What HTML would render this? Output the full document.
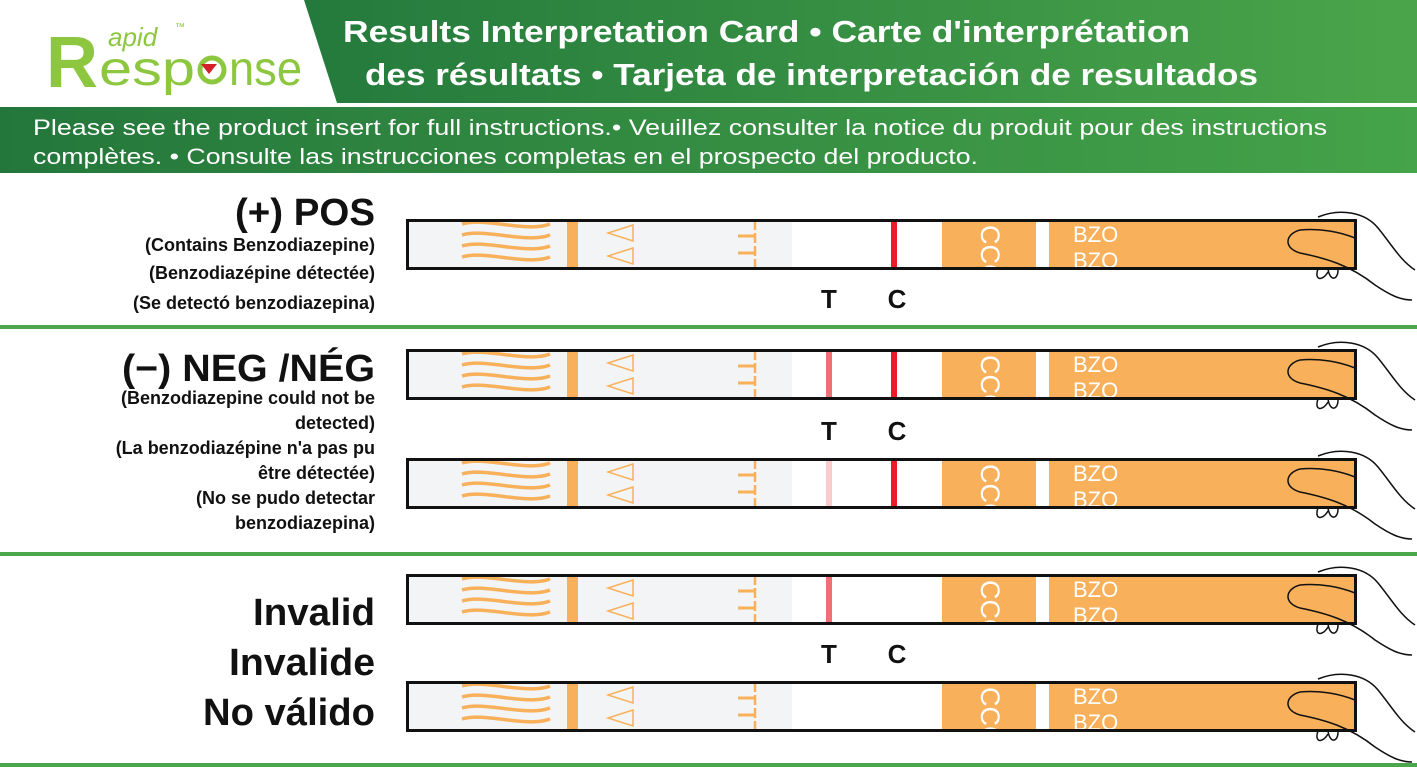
<!DOCTYPE html>
<html><head><meta charset="utf-8">
<style>
html,body{margin:0;padding:0;background:#fff;}
svg{display:block;}
text{font-family:"Liberation Sans",sans-serif;}
</style></head>
<body>
<svg id="card" width="1417" height="768" viewBox="0 0 1417 768" xmlns="http://www.w3.org/2000/svg">
<defs>
<linearGradient id="g1" x1="0" x2="1" y1="0" y2="0"><stop offset="0" stop-color="#247a3c"/><stop offset="1" stop-color="#4aa54a"/></linearGradient>
<linearGradient id="g2" x1="0" x2="1" y1="0" y2="0"><stop offset="0" stop-color="#24773b"/><stop offset="1" stop-color="#45a349"/></linearGradient>
</defs>
<rect x="0" y="0" width="1417" height="768" fill="#fff"/>
<polygon points="304,0 1417,0 1417,103 337,103" fill="url(#g1)"/>
<rect x="0" y="107" width="1417" height="66" fill="url(#g2)"/>
<g>
<text x="46" y="87" font-size="72" font-weight="bold" fill="#8dc63f">R</text>
<text x="108" y="46" font-size="26" font-style="italic" fill="#8dc63f" font-family="Liberation Serif, serif">apid</text>
<text x="175" y="30" font-size="10" fill="#8dc63f">™</text>
<text x="99" y="85" font-size="48" fill="#8dc63f" textLength="96" lengthAdjust="spacingAndGlyphs">esp</text>
<circle cx="212" cy="70" r="12" fill="none" stroke="#8dc63f" stroke-width="5"/>
<polygon points="201,64 217,64 209,74" fill="#d42027"/>
<text x="229" y="85" font-size="48" fill="#8dc63f" textLength="73" lengthAdjust="spacingAndGlyphs">nse</text>
</g>
<g fill="#fff" font-weight="bold" font-size="31">
<text x="343" y="42" textLength="847" lengthAdjust="spacingAndGlyphs">Results Interpretation Card • Carte d'interprétation</text>
<text x="365" y="85" textLength="893" lengthAdjust="spacingAndGlyphs">des résultats • Tarjeta de interpretación de resultados</text>
</g>
<g fill="#fff" font-size="22">
<text x="33" y="135" textLength="1294" lengthAdjust="spacingAndGlyphs">Please see the product insert for full instructions.• Veuillez consulter la notice du produit pour des instructions</text>
<text x="33" y="164" textLength="945" lengthAdjust="spacingAndGlyphs">complètes. • Consulte las instrucciones completas en el prospecto del producto.</text>
</g>
<rect x="0" y="325" width="1417" height="4" fill="#4ca64b"/>
<rect x="0" y="552" width="1417" height="4" fill="#4ca64b"/>
<rect x="0" y="763" width="1417" height="4" fill="#4ca64b"/>

<g text-anchor="end" fill="#111">
<text x="375" y="225" font-size="38" font-weight="bold" textLength="140" lengthAdjust="spacingAndGlyphs">(+) POS</text>
<text x="375" y="251" font-size="18" font-weight="bold">(Contains Benzodiazepine)</text>
<text x="375" y="279" font-size="18" font-weight="bold">(Benzodiazépine détectée)</text>
<text x="375" y="309" font-size="18" font-weight="bold">(Se detectó benzodiazepina)</text>
</g>
<g text-anchor="end" fill="#111">
<text x="375" y="381" font-size="38" font-weight="bold" textLength="253" lengthAdjust="spacingAndGlyphs">(−) NEG /NÉG</text>
<text x="375" y="404" font-size="18" font-weight="bold">(Benzodiazepine could not be</text>
<text x="375" y="429" font-size="18" font-weight="bold">detected)</text>
<text x="375" y="454" font-size="18" font-weight="bold">(La benzodiazépine n'a pas pu</text>
<text x="375" y="479" font-size="18" font-weight="bold">être détectée)</text>
<text x="375" y="504" font-size="18" font-weight="bold">(No se pudo detectar</text>
<text x="375" y="529" font-size="18" font-weight="bold">benzodiazepina)</text>
</g>
<g text-anchor="end" fill="#111" font-size="38" font-weight="bold">
<text x="375" y="625" textLength="122" lengthAdjust="spacingAndGlyphs">Invalid</text>
<text x="375" y="675" textLength="146" lengthAdjust="spacingAndGlyphs">Invalide</text>
<text x="375" y="725" textLength="172" lengthAdjust="spacingAndGlyphs">No válido</text>
</g>
<g id="strips"></g>
</svg>
<script>
const stripTops = [220, 350, 459, 575, 682];
const tLineOpacity = [0, 1, 0.35, 1, 0];
const cLineOpacity = [1, 1, 1, 0, 0];
const tcLabelTops = [308, 440, 663];
const NS = "http://www.w3.org/2000/svg";
const root = document.getElementById('strips');
function mk(tag, attrs, parent) {
  const e = document.createElementNS(NS, tag);
  for (const k in attrs) e.setAttribute(k, attrs[k]);
  parent.appendChild(e);
  return e;
}
stripTops.forEach((y, i) => {
  const g = mk('g', {}, root);
  
  
  const cp = mk('clipPath', {id: 'clip' + i}, g);
  mk('rect', {x: 408, y: y + 2, width: 946, height: 45}, cp);
  const inner = mk('g', {'clip-path': 'url(#clip' + i + ')'}, g);
  mk('rect', {x: 408, y: y, width: 946, height: 49, fill: '#fff'}, inner);
  mk('rect', {x: 408, y: y, width: 384, height: 49, fill: '#f3f4f6'}, inner);
  for (let k = -1; k < 4; k++) {
    const yy = y + 4 + k * 11;
    mk('path', {d: `M462 ${yy} C485 ${yy-7},527 ${yy+9},550 ${yy}`, stroke: '#f9b05a', 'stroke-width': 3.5, fill: 'none'}, inner);
  }
  mk('rect', {x: 567, y: y, width: 11, height: 49, fill: '#f9b05a'}, inner);
  mk('path', {d: `M633 ${y+5} L608 ${y+13} L633 ${y+21} Z M633 ${y+28} L608 ${y+36} L633 ${y+44} Z`, stroke: '#f9b05a', 'stroke-width': 1.5, fill: 'none'}, inner);
  mk('path', {d: `M738 ${y+16} H755 M738 ${y+33} H755`, stroke: '#f9b05a', 'stroke-width': 3, fill: 'none'}, inner);
  mk('path', {d: `M755 ${y} V${y + 49}`, stroke: '#f9b05a', 'stroke-width': 2.5, fill: 'none', 'stroke-dasharray': '10 3'}, inner);
  mk('rect', {x: 942, y: y, width: 94, height: 49, fill: '#f9b05a'}, inner);
  mk('rect', {x: 1049, y: y, width: 310, height: 49, fill: '#f9b05a'}, inner);
  const cc = mk('text', {x: 0, y: 0, 'font-size': 27, fill: '#fff', transform: `translate(981 ${y + 5}) rotate(90)`}, inner);
  cc.textContent = 'CCC';
  const b1 = mk('text', {x: 1073, y: y + 22, 'font-size': 22, fill: '#fff'}, inner); b1.textContent = 'BZO';
  const b2 = mk('text', {x: 1073, y: y + 48, 'font-size': 22, fill: '#fff'}, inner); b2.textContent = 'BZO';
  const t = mk('rect', {x: 826, y: y, width: 6, height: 49, fill: '#ee6f74', opacity: tLineOpacity[i]}, inner);
  
  
  const c = mk('rect', {x: 891, y: y, width: 6, height: 49, fill: '#ed1c24', opacity: cLineOpacity[i]}, inner);
  
  
  mk('rect', {x: 407.5, y: y + 0.5, width: 948, height: 48, fill: 'none', stroke: '#111', 'stroke-width': 3}, g);
  const hand = mk('path', {d: `M1318 ${y-3} C1340 ${y-12},1365 ${y-8},1378 ${y+8} C1392 ${y+25},1400 ${y+40},1415 ${y+50} M1300 ${y+10} C1285 ${y+14},1283 ${y+28},1300 ${y+33} C1325 ${y+38},1350 ${y+45},1375 ${y+65} C1390 ${y+75},1400 ${y+80},1412 ${y+80} M1300 ${y+10} C1320 ${y+8},1340 ${y+12},1355 ${y+18} M1318 ${y+49} C1314 ${y+60},1322 ${y+62},1328 ${y+52} M1328 ${y+49} C1330 ${y+62},1338 ${y+60},1338 ${y+50}`, fill: 'none', stroke: '#111', 'stroke-width': 1.5}, g);
  
  
});
tcLabelTops.forEach((y) => {
  const tl = mk('text', {x: 829, y: y, 'font-size': 26, 'font-weight': 'bold', 'text-anchor': 'middle', fill: '#111'}, root);
  tl.textContent = 'T';
  
  
  const cl = mk('text', {x: 897, y: y, 'font-size': 26, 'font-weight': 'bold', 'text-anchor': 'middle', fill: '#111'}, root);
  cl.textContent = 'C';
  
  
});
</script>
</body></html>
